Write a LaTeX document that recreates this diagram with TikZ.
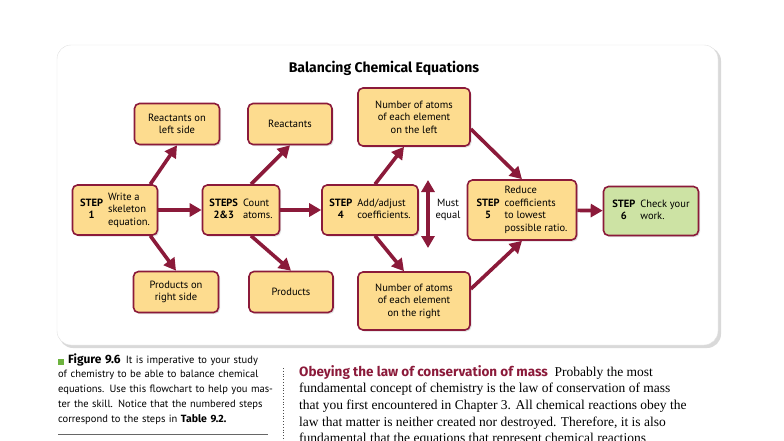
\documentclass[tikz,border=0pt]{standalone}
\usepackage{fontspec}
\setmainfont{Liberation Serif}
\newfontfamily\boxfont{PT Sans}
\newfontfamily\headfont{Fira Sans}
\usetikzlibrary{arrows.meta,shadows}
\definecolor{wine}{HTML}{8B1A3A}
\definecolor{boxfill}{HTML}{FDDC8F}
\definecolor{okfill}{HTML}{CDE3A4}
\definecolor{bullet}{HTML}{6DB33F}
\tikzset{
  box/.style={draw=wine, line width=1.6pt, fill=boxfill, rounded corners=5pt,
    align=center, inner sep=2pt, drop shadow={opacity=0.25, shadow xshift=1.5pt, shadow yshift=-1.5pt},
    font=\boxfont\fontsize{10.5}{12.5}\selectfont},
  flow/.style={wine, line width=3.6pt, -{Triangle[length=12pt,width=13pt]}},
}
\newcommand{\stepin}[2]{\begin{tabular}{@{}c@{\hspace{5pt}}l@{}}\bfseries\begin{tabular}{@{}c@{}}#1\end{tabular} & \begin{tabular}{@{}l@{}}#2\end{tabular}\end{tabular}}
\begin{document}
\begin{tikzpicture}[x=1pt, y=-1pt]
  \useasboundingbox (0,0) rectangle (784,441);
  \clip (0,0) rectangle (784,441);
  % panel
  \fill[black!15, rounded corners=14pt] (59,47) rectangle (721,348);
  \draw[black!12, fill=white, rounded corners=14pt] (57,45) rectangle (718,345);
  \node[font=\headfont\bfseries\fontsize{14}{16}\selectfont] (title) at (384,68) {Balancing Chemical Equations};

  % boxes
  \node[box, minimum width=85pt, minimum height=50pt] (s1) at (115,210) {\stepin{STEP\\1}{Write a\\skeleton\\equation.}};
  \node[box, minimum width=85pt, minimum height=41pt] (rl) at (177,124) {Reactants on\\left side};
  \node[box, minimum width=85pt, minimum height=41pt] (pr) at (176,292) {Products on\\right side};
  \node[box, minimum width=77pt, minimum height=50pt] (s23) at (241,210) {\stepin{STEPS\\2\&3}{Count\\atoms.}};
  \node[box, minimum width=84pt, minimum height=41pt] (re) at (290,124) {Reactants};
  \node[box, minimum width=84pt, minimum height=41pt] (pd) at (291,292) {Products};
  \node[box, minimum width=96pt, minimum height=50pt] (s4) at (370,210) {\stepin{STEP\\4}{Add/adjust\\coefficients.}};
  \node[box, minimum width=112pt, minimum height=58pt] (al) at (414,117) {Number of atoms\\of each element\\on the left};
  \node[box, minimum width=112pt, minimum height=58pt] (ar) at (414,301) {Number of atoms\\of each element\\on the right};
  \node[box, minimum width=109pt, minimum height=60pt] (s5) at (522,210) {\stepin{STEP\\5}{Reduce\\coefficients\\to lowest\\possible ratio.}};
  \node[box, fill=okfill, minimum width=95pt, minimum height=49pt] (s6) at (651,211) {\stepin{STEP\\6}{Check your\\work.}};
  \node[font=\boxfont\fontsize{10.5}{12.5}\selectfont, align=center] (eq) at (448,210) {Must\\equal};
  \coordinate (eqt) at (428,180);
  \coordinate (eqb) at (428,248);

  % arrows
  \draw[flow] (s1.north east) ++(-8,0) -- (rl.south);
  \draw[flow] (s1.south east) ++(-8,0) -- (pr.north);
  \draw[flow] (s1) -- (s23);
  \draw[flow] (s23.north) ++(10,0) -- (re.south);
  \draw[flow] (s23.south) ++(10,0) -- (pd.north);
  \draw[flow] (s23) -- (s4);
  \draw[flow] (s4.north) ++(5,0) -- ([xshift=-10pt]al.south);
  \draw[flow] (s4.south) ++(5,0) -- ([xshift=-10pt]ar.north);
  \draw[flow] (al.east) ++(0,12) -- (s5.north);
  \draw[flow] (ar.east) ++(0,-12) -- (s5.south);
  \draw[flow] (s5) -- (s6);
  \draw[wine, line width=3.6pt, {Triangle[length=12pt,width=13pt]}-{Triangle[length=12pt,width=13pt]}] (eqt) -- (eqb);

  % caption
  \fill[bullet] (58,359) rectangle (64,365);
  \node[anchor=north west, align=left, inner sep=0pt, text width=215pt,
    font=\boxfont\fontsize{10.5}{15}\selectfont] (cap) at (68,354)
    {{\headfont\bfseries\fontsize{12}{15}\selectfont Figure 9.6}\, It is imperative to your study};
  \node[anchor=north west, align=left, inner sep=0pt, text width=215pt,
    font=\boxfont\fontsize{10.5}{15}\selectfont] (cap2) at (58,370)
    {of chemistry to be able to balance chemical\\equations. Use this flowchart to help you mas-\\ter the skill. Notice that the numbered steps\\correspond to the steps in {\headfont\bfseries Table 9.2.}};
  \draw[black!60, line width=0.8pt] (58,434) -- (268,434);
  \draw[black!70, dotted, line width=0.8pt] (283,368) -- (283,441);

  % body text
  \node[anchor=north west, align=left, inner sep=0pt,
    font=\fontsize{13.5}{16.7}\selectfont] (body) at (299,365)
    {{\headfont\bfseries\color{wine}Obeying the law of conservation of mass}\enspace Probably the most\\
     fundamental concept of chemistry is the law of conservation of mass\\
     that you first encountered in Chapter 3. All chemical reactions obey the\\
     law that matter is neither created nor destroyed. Therefore, it is also\\
     fundamental that the equations that represent chemical reactions};
\end{tikzpicture}
\end{document}
